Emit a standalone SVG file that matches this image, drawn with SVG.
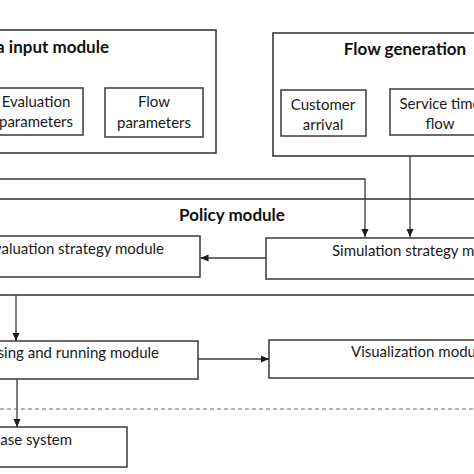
<svg xmlns="http://www.w3.org/2000/svg" width="474" height="474" viewBox="0 0 474 474">
  <defs>
    <marker id="arrow" viewBox="0 0 8 8" refX="8" refY="4" markerWidth="8" markerHeight="8" markerUnits="userSpaceOnUse" orient="auto">
      <path d="M0,0.5 L8,4 L0,7.5 Z" fill="#1a1a1a"/>
    </marker>
  </defs>
  <style>
    .box { fill: #ffffff; stroke: #3a3a3a; stroke-width: 1.5; }
    .frame { fill: none; stroke: #3a3a3a; stroke-width: 1.6; }
    .title { font-family: Lato, "Liberation Sans", sans-serif; font-weight: bold; font-size: 17px; fill: #111; }
    .lbl { font-family: Lato, "Liberation Sans", sans-serif; font-size: 15px; fill: #1a1a1a; }
    .wire { fill: none; stroke: #3a3a3a; stroke-width: 1.3; }
    .dash { fill: none; stroke: #666; stroke-width: 1.2; stroke-dasharray: 4 3; }
  </style>
  <rect width="474" height="474" fill="#ffffff"/>

  <!-- data input module -->
  <g id="data-input">
    <rect class="frame" x="-60" y="30" width="276" height="123"/>
    <text class="title" x="109" y="53" text-anchor="end">Data input module</text>
  </g>
  <g id="evaluation-parameters">
    <rect class="box" x="-12" y="88" width="95" height="47"/>
    <text class="lbl" x="36" y="107" text-anchor="middle">Evaluation</text>
    <text class="lbl" x="36" y="127" text-anchor="middle">parameters</text>
  </g>
  <g id="flow-parameters">
    <rect class="box" x="105" y="88" width="98" height="49"/>
    <text class="lbl" x="154" y="107" text-anchor="middle">Flow</text>
    <text class="lbl" x="154" y="128" text-anchor="middle">parameters</text>
  </g>

  <!-- flow generation -->
  <g id="flow-generation">
    <rect class="frame" x="273" y="33" width="260" height="123"/>
    <text class="title" x="405" y="55" text-anchor="middle">Flow generation</text>
  </g>
  <g id="customer-arrival">
    <rect class="box" x="281" y="90" width="85" height="46"/>
    <text class="lbl" x="323" y="110" text-anchor="middle">Customer</text>
    <text class="lbl" x="323" y="130" text-anchor="middle">arrival</text>
  </g>
  <g id="service-time-flow">
    <rect class="box" x="390" y="89" width="98" height="46"/>
    <text class="lbl" x="440" y="109" text-anchor="middle">Service time</text>
    <text class="lbl" x="440" y="129" text-anchor="middle">flow</text>
  </g>

  <!-- policy module -->
  <g id="policy">
    <rect class="frame" x="-20" y="199" width="520" height="96"/>
    <text class="title" x="232" y="221" text-anchor="middle">Policy module</text>
  </g>
  <g id="evaluation-strategy">
    <rect class="box" x="-20" y="236" width="220" height="41"/>
    <text class="lbl" x="164" y="254" text-anchor="end">Evaluation strategy module</text>
  </g>
  <g id="simulation-strategy">
    <rect class="box" x="266" y="238" width="260" height="41"/>
    <text class="lbl" x="332" y="256">Simulation strategy module</text>
  </g>

  <!-- lower modules -->
  <g id="parsing-running">
    <rect class="box" x="-40" y="341" width="238" height="38"/>
    <text class="lbl" x="159" y="358" text-anchor="end">Parsing and running module</text>
  </g>
  <g id="visualization">
    <rect class="box" x="269" y="340" width="260" height="38"/>
    <text class="lbl" x="351" y="357">Visualization module</text>
  </g>
  <g id="database">
    <rect class="box" x="-40" y="427" width="167" height="40"/>
    <text class="lbl" x="72" y="445" text-anchor="end">Database system</text>
  </g>

  <!-- connectors -->
  <g id="connectors">
    <path class="wire" d="M-20,153 V179 H365 V237" marker-end="url(#arrow)"/>
    <path class="wire" d="M410,156 V237" marker-end="url(#arrow)"/>
    <path class="wire" d="M266,258 H200.5" marker-end="url(#arrow)"/>
    <path class="wire" d="M16,295 V341" marker-end="url(#arrow)"/>
    <path class="wire" d="M198,359 H269" marker-end="url(#arrow)"/>
    <path class="wire" d="M17,379 V427" marker-end="url(#arrow)"/>
    <path class="dash" d="M0,409 H474"/>
  </g>
</svg>
